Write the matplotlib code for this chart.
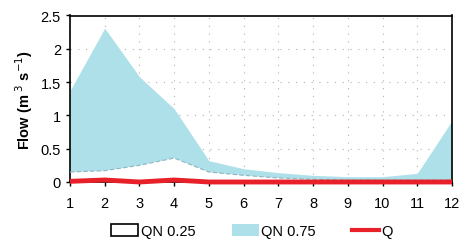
import matplotlib
matplotlib.use("Agg")
import matplotlib.pyplot as plt
import numpy as np
from matplotlib.patches import Patch
from matplotlib.lines import Line2D

plt.rcParams['font.family'] = ['Liberation Sans', 'DejaVu Sans']

months = [1, 2, 3, 4, 5, 6, 7, 8, 9, 10, 11, 12]
qn75 = [1.37, 2.31, 1.58, 1.10, 0.32, 0.20, 0.14, 0.10, 0.08, 0.08, 0.13, 0.92]
qn25 = [0.15, 0.17, 0.25, 0.36, 0.15, 0.10, 0.06, 0.04, 0.03, 0.03, 0.03, 0.03]
q = [0.01, 0.03, 0.00, 0.03, 0.00, 0.00, 0.00, 0.00, 0.00, 0.00, 0.00, 0.00]
yticks = [0, 0.5, 1, 1.5, 2, 2.5]
ytick_labels = ['0', '0.5', '1', '1.5', '2', '2.5']

fig = plt.figure(figsize=(4.74, 2.51), dpi=100)
ax = fig.add_axes([70/474, 1-183/251, (452-70)/474, (183-16.5)/251])

ax.fill_between(months, 0, qn75, color='#aee0ea', linewidth=0, zorder=1)
ax.fill_between(months, 0, qn25, facecolor='white', linewidth=0, zorder=2)
ax.plot(months, qn25, color='#8fb5bf', linestyle=(0, (4, 2)), linewidth=0.8, zorder=3)
ax.plot(months, q, color='#e8202a', linewidth=3.5, zorder=5, clip_on=False,
        solid_capstyle='butt')

ax.set_xlim(1, 12)
ax.set_ylim(0, 2.5)
ax.set_xticks(months)
ax.set_yticks(yticks)
ax.set_yticklabels(ytick_labels)
ax.grid(True, color='#b0b0b0', linestyle=(0, (1, 6)), linewidth=0.8)
ax.set_axisbelow(True)
ax.tick_params(axis='both', labelsize=10.5, length=3, direction='out', width=1)
ax.tick_params(axis='x', pad=7)
for s in ax.spines.values():
    s.set_linewidth(1.2)
ax.set_ylabel(r'Flow (m$^{\ 3}$ s$^{-1}$)', fontsize=10.5, fontweight='bold', labelpad=4)

handles = [Patch(facecolor='white', edgecolor='black', linewidth=1.2),
           Patch(facecolor='#aee0ea', edgecolor='none'),
           Line2D([0], [0], color='#e8202a', linewidth=3)]
labels = ['QN 0.25', 'QN 0.75', 'Q']
fig.legend(handles, labels, loc='center', bbox_to_anchor=(252/474, 1-232/251), ncol=3,
           frameon=False, fontsize=10.5, handlelength=1.85, handletextpad=0.15,
           columnspacing=2.5, handleheight=0.8)

fig.savefig('out.png', dpi=100)
